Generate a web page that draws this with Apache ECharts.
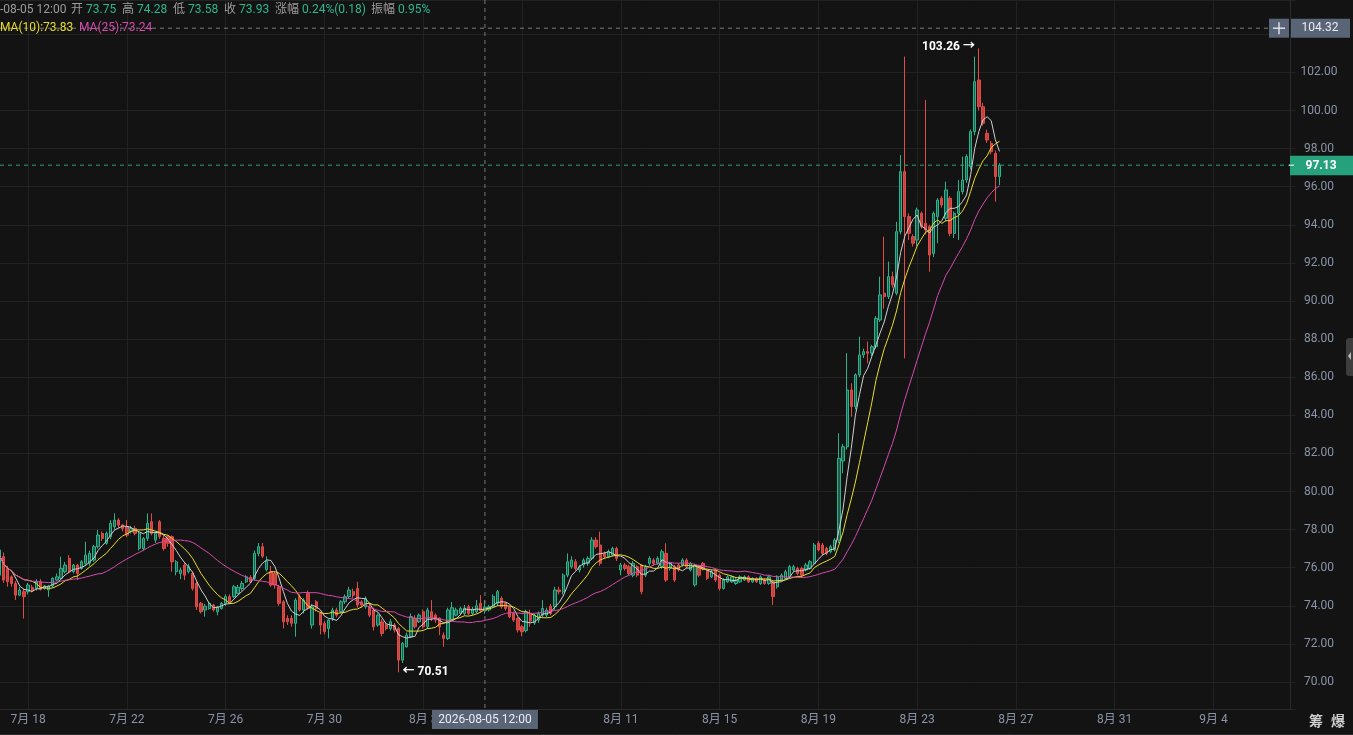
<!DOCTYPE html>
<html>
<head>
<meta charset="utf-8">
<script src="https://cdn.jsdelivr.net/npm/echarts@6/dist/echarts.min.js"></script>
<style>
html,body{margin:0;padding:0;background:#131313;overflow:hidden;}
#main{width:1353px;height:735px;}
</style>
</head>
<body>
<div id="main"></div>
<script>
// ---------- data ----------
const startTimeUTC = Date.UTC(2026, 6, 16, 16); // first 4h bar: 2026-07-16 16:00
const barHours = 4;
const categoryCount = 316;                        // bars incl. empty future space
const labelAnchorUTC = Date.UTC(2026, 6, 18);    // labels every 4 days from 7/18

const opens = [
76.9,75.61,76.58,75.96,75.52,75.17,74.56,74.74,74.74,74.97,
74.91,75.26,74.91,74.83,75.04,75.35,75.44,75.79,76.49,75.79,
76.14,75.96,76.23,76.23,76.4,77.1,77.8,77.28,77.63,78.15,
78.5,78.24,78.15,77.89,78.06,77.01,77.01,77.54,78.41,77.45,
78.41,77.54,77.63,77.63,75.79,75.7,76.14,75.79,75.7,75.17,
74.13,73.78,73.86,74.04,73.69,73.86,74.13,74.48,74.48,74.65,
74.91,75.26,75.49,75.44,76.75,77.1,75.9,75.79,75.7,75.0,
74.21,73.34,73.34,73.08,74.48,73.78,74.65,72.99,74.21,73.6,
73.08,72.81,73.34,73.78,73.69,74.21,74.48,74.74,74.91,74.21,
73.95,73.95,73.78,72.99,73.16,72.99,72.81,72.99,72.81,71.15,
71.85,72.38,73.34,73.16,73.69,72.9,73.69,73.51,73.34,72.46,
72.29,73.25,73.51,73.6,73.6,73.95,73.6,73.69,74.13,73.75,
73.78,73.95,74.13,74.39,74.13,73.95,73.6,73.34,72.9,72.7,
73.6,73.1,73.25,73.51,73.51,73.98,73.95,74.83,74.74,75.61,
76.05,76.31,75.88,76.14,76.23,76.49,77.45,77.19,76.75,76.58,
76.66,77.01,75.88,76.14,76.05,75.61,76.05,76.14,75.61,76.23,
76.4,76.23,76.05,76.75,75.96,76.05,76.14,76.14,76.4,75.88,
75.1,76.05,76.23,75.88,75.52,75.88,75.61,74.91,75.26,75.26,
75.17,75.26,75.35,75.52,75.26,75.44,75.17,75.35,75.17,75.26,
75.0,75.35,75.44,75.52,75.88,75.96,75.96,75.88,75.96,76.23,
77.28,77.19,77.01,76.84,76.93,77.45,81.6,82.35,85.33,84.46,
86.12,87.17,87.34,87.26,87.6,89.0,90.41,90.23,91.28,90.41,
93.64,96.79,94.43,93.38,93.2,94.6,94.08,93.9,92.5,94.43,
95.39,94.34,95.39,93.55,94.6,95.74,96.35,97.05,98.89,101.6,
100.2,98.8,98.28,97.75,96.53
];
const closes = [
76.4,76.93,75.35,75.26,75.17,74.56,74.83,74.48,75.09,74.79,
75.26,74.86,75.04,75.04,75.44,75.52,75.96,76.14,75.79,76.14,
75.7,76.31,76.66,76.75,77.1,77.71,77.54,77.8,78.33,78.5,
78.24,78.06,77.71,78.06,77.8,77.8,77.54,78.33,77.8,77.8,
77.63,77.01,77.28,76.31,76.31,75.88,75.61,76.05,74.91,73.95,
73.69,73.98,74.13,73.78,73.95,74.13,74.48,74.21,75.0,74.97,
75.17,75.52,75.26,76.75,77.1,76.6,76.35,75.09,75.09,74.13,
73.16,73.16,73.08,74.3,73.78,74.3,73.86,73.95,73.86,72.99,
72.64,73.25,73.78,73.51,74.21,74.48,74.83,74.56,74.04,74.04,
74.39,73.51,72.9,73.51,72.55,72.81,73.16,72.73,71.15,72.03,
72.46,73.43,72.9,73.51,72.9,73.78,73.34,73.25,72.89,72.29,
73.78,73.9,73.78,73.86,73.88,73.6,73.82,74.0,73.75,73.93,
73.95,74.48,74.74,73.95,73.86,73.43,73.25,72.73,72.64,73.7,
73.2,73.51,73.6,73.86,73.78,73.6,74.83,74.74,75.61,76.31,
76.4,75.96,76.05,76.4,76.49,77.45,77.1,76.23,76.58,76.84,
77.01,76.49,76.14,75.96,75.7,76.23,75.61,74.74,76.05,76.49,
76.23,76.49,76.84,75.35,76.23,75.35,75.88,76.4,76.05,76.23,
76.1,75.61,75.96,75.44,75.79,75.35,74.91,75.35,75.52,75.52,
75.35,75.52,75.52,75.26,75.44,75.26,75.52,75.17,75.52,74.48,
75.52,75.61,75.79,76.05,76.05,75.7,75.61,76.14,76.31,77.19,
76.93,76.75,76.75,77.1,77.45,81.74,82.35,85.33,84.46,86.12,
87.17,87.34,87.26,87.6,89.09,90.32,90.23,91.28,90.85,93.64,
96.79,94.43,93.55,93.03,94.78,93.9,93.73,92.41,94.6,95.3,
95.04,95.83,93.55,94.6,95.74,96.35,97.58,98.89,101.51,100.2,
99.33,98.45,97.84,96.53,97.13
];
const lows = [
76.2,75.5,75.2,75.0,75.0,74.3,74.5,73.33,74.6,74.7,
74.8,74.8,74.85,74.47,74.95,75.3,75.4,75.7,75.7,75.7,
75.35,75.9,76.1,76.1,76.3,77.0,77.4,77.2,77.5,78.0,
78.1,77.9,77.6,77.8,77.7,76.9,76.9,77.4,77.7,77.3,
77.5,76.9,77.1,75.79,75.6,75.4,75.35,75.7,74.8,73.78,
73.6,73.43,73.8,73.7,73.5,73.8,74.0,74.1,74.4,74.6,
74.8,75.2,75.2,75.3,76.6,76.5,75.8,75.0,74.9,74.0,
72.81,73.0,72.9,72.38,73.7,73.6,73.8,72.8,73.7,72.5,
72.5,72.29,73.2,73.4,73.6,74.1,74.4,74.4,73.9,73.9,
73.85,73.4,72.7,72.9,72.4,72.7,72.7,72.6,70.51,71.0,
71.8,72.3,72.8,73.1,72.8,72.8,73.2,73.1,72.46,71.85,
72.2,73.2,73.45,73.5,73.5,73.5,73.5,73.6,73.65,73.58,
73.7,73.9,74.0,73.85,73.75,73.35,73.15,72.6,72.4,72.6,
72.9,73.0,73.1,73.4,73.4,73.5,73.8,74.6,74.6,75.5,
75.95,75.85,75.75,76.0,76.1,76.4,77.0,76.1,76.45,76.5,
76.6,76.35,75.6,75.85,75.6,75.5,75.5,74.6,75.5,76.1,
76.1,76.15,75.95,75.25,75.85,75.25,75.8,76.05,75.95,75.8,
75.0,75.5,75.85,75.35,75.45,75.25,74.8,74.85,75.2,75.2,
75.1,75.2,75.3,75.2,75.2,75.2,75.1,75.1,75.1,74.04,
74.9,75.3,75.4,75.45,75.8,75.6,75.5,75.8,75.9,76.15,
76.85,76.65,76.65,76.75,76.85,77.3,80.96,82.2,83.93,84.3,
86.0,87.0,86.73,87.1,87.5,88.9,89.6,90.1,90.7,90.3,
93.5,86.99,93.2,92.86,92.9,93.8,93.5,91.54,92.3,93.03,
94.9,94.2,93.4,93.3,93.2,95.6,96.2,96.9,98.7,100.0,
99.2,98.3,97.7,95.21,96.09
];
const highs = [
77.1,77.1,76.8,76.1,75.6,75.3,75.0,74.9,75.2,75.1,
75.4,75.4,75.1,75.1,75.5,75.7,76.58,76.3,76.66,76.2,
76.2,76.4,77.36,76.9,77.2,77.98,77.9,77.9,78.5,78.85,
78.6,78.3,78.5,78.2,78.2,77.9,77.6,78.85,78.85,77.9,
78.5,77.7,77.7,77.7,76.4,76.0,76.3,76.2,75.8,75.3,
74.2,74.1,74.2,74.1,74.0,74.2,74.6,74.6,75.1,75.1,
75.3,75.6,75.6,76.9,77.3,77.3,76.6,76.1,75.8,75.1,
74.3,73.5,73.5,74.4,74.6,74.4,74.8,74.1,74.3,73.7,
73.2,73.3,73.9,73.9,74.3,74.6,75.0,74.9,75.26,74.3,
74.5,74.1,73.9,73.6,73.3,73.1,73.3,73.1,72.9,72.1,
72.6,73.6,73.5,73.6,73.8,73.9,74.3,73.6,73.4,72.6,
73.9,74.2,73.9,73.95,74.04,74.05,73.95,74.3,74.56,74.28,
74.05,74.6,74.83,74.5,74.2,74.0,73.7,73.4,73.0,73.8,
73.8,73.6,73.7,74.3,73.9,74.1,75.0,75.0,75.7,76.75,
76.6,76.45,76.15,76.5,76.6,77.6,77.6,77.89,76.85,76.95,
77.1,77.1,76.25,76.25,76.15,76.35,76.15,76.2,76.15,76.6,
76.5,76.6,76.95,77.28,76.3,76.15,76.25,76.5,76.5,76.3,
76.2,76.15,76.3,75.95,75.9,75.95,75.7,75.45,75.6,75.6,
75.45,75.6,75.6,75.6,75.5,75.5,75.6,75.45,75.6,75.35,
75.6,75.7,75.9,76.15,76.15,76.05,76.05,76.25,76.4,77.3,
77.4,77.3,77.1,77.2,77.55,83.06,82.5,87.26,85.68,86.2,
88.13,87.5,87.87,87.7,89.2,91.28,93.38,92.07,91.54,94.16,
97.66,102.83,94.6,93.5,94.9,94.7,100.55,94.0,94.7,95.4,
95.5,96.26,95.5,94.7,96.35,97.58,97.7,99.0,102.83,103.26,
100.4,99.0,98.4,97.9,97.23
];

const maPeriods = [5, 10, 25];
const maColors = ['#cfcfcf', '#e8dc2a', '#d64aae'];

// crosshair / header readout
const crossIndex = 119;            // 2026-08-05 12:00 bar
const crossPrice = 104.32;
const headerTime = '2026-08-05 12:00';
const headerFields = [
  ['开', '73.75', 71, 86], ['高', '74.28', 122, 137], ['低', '73.58', 173, 188],
  ['收', '73.93', 224, 239], ['涨幅', '0.24%(0.18)', 275, 302], ['振幅', '0.95%', 371, 398]
];
const maHeader = [['MA(10):73.83', '#e8dc2a', 0], ['MA(25):73.24', '#d64aae', 79]];
const lastPrice = 97.13;
const maxIndex = 239, maxPrice = 103.26;
const minIndex = 98, minPrice = 70.51;

// ---------- build ----------
const FONT = 'Roboto, "Noto Sans CJK SC", "Noto Sans", sans-serif';
const pad = n => n;
const categories = [];
for (let i = 0; i < categoryCount; i++) categories.push(startTimeUTC + i * barHours * 3600000);
function isLabelBar(index) {
  const t = categories[index];
  const d = new Date(t);
  if (d.getUTCHours() !== 0) return false;
  const days = Math.round((t - labelAnchorUTC) / 86400000);
  return ((days % 4) + 4) % 4 === 0;
}
function fmtLabel(value) {
  const d = new Date(+value);
  return (d.getUTCMonth() + 1) + '月 ' + d.getUTCDate();
}
const nBars = Math.min(opens.length, closes.length, lows.length, highs.length);
const candleData = [];
for (let i = 0; i < nBars; i++) candleData.push([opens[i], closes[i], lows[i], highs[i]]);
function movingAverage(vals, n) {
  const out = [];
  for (let i = 0; i < vals.length; i++) {
    const s = Math.max(0, i - n + 1);
    let sum = 0;
    for (let k = s; k <= i; k++) sum += vals[k];
    out.push(+(sum / (i - s + 1)).toFixed(4));
  }
  return out;
}
const pxPerUnit = 19.05;
const yMin = 70 - 27 / pxPerUnit;
const yMax = 70 + 682 / pxPerUnit;

const chart = echarts.init(document.getElementById('main'), null, { renderer: 'canvas' });
const option = {
  backgroundColor: '#131313',
  animation: false,
  textStyle: { fontFamily: FONT },
  grid: { left: -4.86, right: 61.3, top: 0, bottom: 26, containLabel: false, outerBoundsMode: 'none' },
  xAxis: {
    type: 'category',
    data: categories,
    boundaryGap: false,
    axisLine: { show: true, lineStyle: { color: '#2a2a2a', width: 1 } },
    axisTick: { show: false },
    axisLabel: { interval: isLabelBar, formatter: fmtLabel, color: '#8a94a8', fontSize: 12, margin: 5, fontFamily: FONT },
    splitLine: { show: true, interval: isLabelBar, lineStyle: { color: '#222222', width: 1 } }
  },
  yAxis: {
    type: 'value',
    position: 'right',
    scale: true,
    min: yMin,
    max: yMax,
    minInterval: 2,
    maxInterval: 2,
    axisLine: { show: false },
    axisTick: { show: true, length: 4, lineStyle: { color: '#222222' } },
    axisLabel: {
      color: '#8a94a8', fontSize: 12, margin: 27.3, align: 'center', fontFamily: FONT,
      formatter: v => (Math.abs(v / 2 - Math.round(v / 2)) < 1e-6 ? v.toFixed(2) : '')
    },
    splitLine: { show: true, lineStyle: { color: '#222222', width: 1 } }
  },
  series: [
    {
      type: 'candlestick',
      data: candleData,
      barWidth: 2.8,
      large: false,
      itemStyle: {
        color: '#1f5e4c', color0: '#c9403d',
        borderColor: '#2bb38b', borderColor0: '#e04c48', borderWidth: 1
      },
      z: 2
    }
  ].concat(maPeriods.map((p, k) => ({
    type: 'line',
    name: 'MA' + p,
    data: movingAverage(closes.slice(0, nBars), p),
    showSymbol: false,
    symbol: 'none',
    smooth: false,
    lineStyle: { color: maColors[k], width: 1 },
    z: 3 + k
  })))
};
chart.setOption(option);

// ---------- overlays (positions through the chart's own scales) ----------
const X = v => chart.convertToPixel({ xAxisIndex: 0 }, v);
const Y = v => chart.convertToPixel({ yAxisIndex: 0 }, v);
const xc = X(crossIndex), yc = Y(crossPrice), yl = Y(lastPrice);
const slate = '#5a6477';
const g = [];
// axis separator
g.push({ type: 'line', shape: { x1: 1290.5, y1: 0, x2: 1290.5, y2: 709 }, style: { stroke: '#2a2a2a', lineWidth: 1 }, z: 50 });
g.push({ type: 'line', shape: { x1: 0, y1: 734.5, x2: 1353, y2: 734.5 }, style: { stroke: '#2c2c2c', lineWidth: 1 }, z: 50 });
// crosshair
g.push({ type: 'line', shape: { x1: xc, y1: 0, x2: xc, y2: 709 }, style: { stroke: '#7a7a7a', lineWidth: 1, lineDash: [4, 4] }, z: 60 });
g.push({ type: 'line', shape: { x1: 0, y1: yc, x2: 1268, y2: yc }, style: { stroke: '#7a7a7a', lineWidth: 1, lineDash: [4, 4] }, z: 60 });
g.push({ type: 'rect', shape: { x: 1269, y: yc - 9.5, width: 20, height: 19 }, style: { fill: slate }, z: 70 });
g.push({ type: 'line', shape: { x1: 1273, y1: yc, x2: 1285, y2: yc }, style: { stroke: '#e3e7ee', lineWidth: 1.4 }, z: 71 });
g.push({ type: 'line', shape: { x1: 1279, y1: yc - 6, x2: 1279, y2: yc + 6 }, style: { stroke: '#e3e7ee', lineWidth: 1.4 }, z: 71 });
g.push({ type: 'rect', shape: { x: 1291, y: yc - 9.5, width: 59, height: 19 }, style: { fill: slate }, z: 70 });
g.push({ type: 'text', x: 1320, y: yc, style: { text: crossPrice.toFixed(2), fill: '#e8ecf2', font: '12px ' + FONT, align: 'center', verticalAlign: 'middle' }, z: 71 });
g.push({ type: 'rect', shape: { x: xc - 53, y: 710, width: 106, height: 19 }, style: { fill: slate }, z: 70 });
g.push({ type: 'text', x: xc, y: 719.5, style: { text: headerTime, fill: '#e8ecf2', font: '12px ' + FONT, align: 'center', verticalAlign: 'middle' }, z: 71 });
// last price line + tag
g.push({ type: 'line', shape: { x1: 0, y1: yl, x2: 1290, y2: yl }, style: { stroke: '#2aa37e', lineWidth: 1, lineDash: [4, 4] }, z: 60 });
g.push({ type: 'rect', shape: { x: 1290, y: yl - 9.5, width: 63, height: 19.5 }, style: { fill: '#27a07c' }, z: 70 });
g.push({ type: 'line', shape: { x1: 1289, y1: yl, x2: 1294, y2: yl }, style: { stroke: '#ffffff', lineWidth: 1 }, z: 71 });
g.push({ type: 'text', x: 1321, y: yl + 0.5, style: { text: lastPrice.toFixed(2), fill: '#ffffff', font: 'bold 12px ' + FONT, align: 'center', verticalAlign: 'middle' }, z: 71 });
// max / min markers
g.push({ type: 'text', x: X(maxIndex) - 4, y: Y(maxPrice) - 1, style: { text: maxPrice.toFixed(2) + ' →', fill: '#ffffff', font: 'bold 12px ' + FONT, align: 'right', verticalAlign: 'middle' }, z: 71 });
g.push({ type: 'text', x: X(minIndex) + 4, y: Y(minPrice), style: { text: '← ' + minPrice.toFixed(2), fill: '#ffffff', font: 'bold 12px ' + FONT, align: 'left', verticalAlign: 'middle' }, z: 71 });
// header line 1
g.push({ type: 'text', x: -27, y: 10, style: { text: headerTime, fill: '#9c9c9c', font: '12px ' + FONT, align: 'left', verticalAlign: 'middle' }, z: 80 });
headerFields.forEach(f => {
  g.push({ type: 'text', x: f[2], y: 10, style: { text: f[0], fill: '#9c9c9c', font: '12px ' + FONT, align: 'left', verticalAlign: 'middle' }, z: 80 });
  g.push({ type: 'text', x: f[3], y: 10, style: { text: f[1], fill: '#2db78c', font: '12px ' + FONT, align: 'left', verticalAlign: 'middle' }, z: 80 });
});
// header line 2
maHeader.forEach(m => {
  g.push({ type: 'text', x: m[2], y: 27.5, style: { text: m[0], fill: m[1], font: '12px ' + FONT, align: 'left', verticalAlign: 'middle' }, z: 80 });
});
// bottom-right buttons
g.push({ type: 'text', x: 1316, y: 721, style: { text: '筹', fill: '#cfcfcf', font: 'bold 14px "Noto Sans CJK SC", sans-serif', align: 'center', verticalAlign: 'middle' }, z: 80 });
g.push({ type: 'text', x: 1338, y: 721, style: { text: '爆', fill: '#cfcfcf', font: 'bold 14px "Noto Sans CJK SC", sans-serif', align: 'center', verticalAlign: 'middle' }, z: 80 });
// right edge handle
g.push({ type: 'rect', shape: { x: 1346, y: 338, width: 7, height: 38, r: [3, 0, 0, 3] }, style: { fill: '#3d3d3d' }, z: 80 });
g.push({ type: 'polygon', shape: { points: [[1351, 352], [1348, 356], [1351, 360]] }, style: { fill: '#bdbdbd' }, z: 81 });
chart.setOption({ graphic: g });
</script>
</body>
</html>
